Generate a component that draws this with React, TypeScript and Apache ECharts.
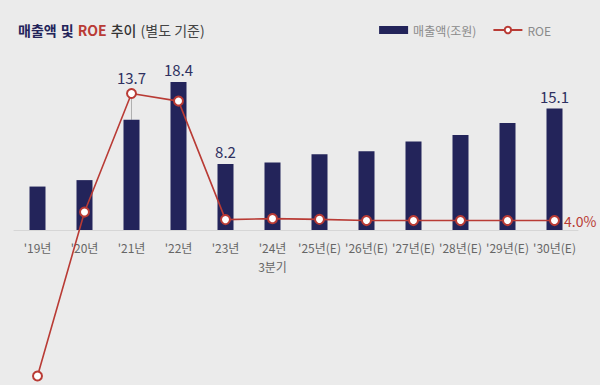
import React, { useEffect, useRef } from "react";
import * as echarts from "echarts";

const categories = [
  "'19년", "'20년", "'21년", "'22년", "'23년", "'24년\n3분기",
  "'25년(E)", "'26년(E)", "'27년(E)", "'28년(E)", "'29년(E)", "'30년(E)",
];
const revenue = [5.4, 6.2, 13.7, 18.4, 8.2, 8.4, 9.4, 9.8, 11.0, 11.8, 13.3, 15.1];
const roe = [-60, 7.5, 56.3, 53.2, 4.4, 4.8, 4.5, 4.0, 4.0, 4.0, 4.0, 4.0];
const labeledBars = [2, 3, 4, 11];
const roeLabelIdx = 11;
const leaderIdx = 2;

const NAVY = "#23245a";
const RED = "#b93b35";
const FONT = "'Noto Sans CJK KR', 'Noto Sans', sans-serif";

export default function App() {
  const ref = useRef<HTMLDivElement>(null);
  useEffect(() => {
    document.body.style.margin = "0";
    if (!ref.current) return;
    const chart = echarts.init(ref.current, undefined, { renderer: "svg" });
    const barData = revenue.map((v, i) => {
      if (!labeledBars.includes(i)) return v;
      const item: any = { value: v, label: { show: true } };
      if (i === leaderIdx) item.label.offset = [0, -30];
      return item;
    });
    const roeData = roe.map((v, i) =>
      i === roeLabelIdx
        ? {
            value: v,
            label: {
              show: true,
              position: "right",
              distance: 4,
              formatter: (p: any) => p.value.toFixed(1) + "%",
              color: RED,
              fontSize: 14,
              fontFamily: FONT,
            },
          }
        : v
    );
    chart.setOption({
      animation: false,
      backgroundColor: "#ebebeb",
      textStyle: { fontFamily: FONT },
      title: {
        left: 13,
        top: 16,
        text: "{a|매출액} {b|및} {c|ROE} {d|추이} {e|(별도 기준)}",
        textStyle: {
          rich: {
            a: { fontSize: 14, fontWeight: "bold", color: NAVY, fontFamily: FONT },
            b: { fontSize: 14, fontWeight: "bold", color: NAVY, fontFamily: FONT },
            c: { fontSize: 14, fontWeight: "bold", color: RED, fontFamily: FONT },
            d: { fontSize: 14, fontWeight: 500, color: "#333", fontFamily: FONT },
            e: { fontSize: 14, fontWeight: "normal", color: "#444", fontFamily: FONT },
          },
        },
      },
      legend: {
        right: 44,
        top: 19,
        itemWidth: 29,
        itemHeight: 8,
        itemGap: 16,
        textStyle: { color: "#8a8a8a", fontSize: 12, fontFamily: FONT },
        data: [
          { name: "매출액(조원)", icon: "rect" },
          { name: "ROE" },
        ],
      },
      grid: [
        { left: 14, right: 22, top: 53, bottom: 155 },
        { left: 14, right: 22, top: 53, bottom: 9 },
      ],
      xAxis: [
        {
          type: "category",
          gridIndex: 0,
          data: categories,
          axisLine: { lineStyle: { color: "#d6d6d6", width: 1 } },
          axisTick: { show: false },
          axisLabel: {
            color: "#666",
            fontSize: 12,
            lineHeight: 19,
            margin: 8,
            interval: 0,
            fontFamily: FONT,
          },
        },
        {
          type: "category",
          gridIndex: 1,
          data: categories,
          show: false,
        },
      ],
      yAxis: [
        { type: "value", gridIndex: 0, min: 0, max: 22, show: false, splitLine: { show: false } },
        { type: "value", gridIndex: 1, min: -60, max: 73, show: false, splitLine: { show: false } },
      ],
      series: [
        {
          name: "매출액(조원)",
          type: "bar",
          xAxisIndex: 0,
          yAxisIndex: 0,
          data: barData,
          barWidth: 16,
          itemStyle: { color: NAVY },
          label: {
            show: false,
            position: "top",
            distance: 5,
            color: "#2e3060",
            fontSize: 15,
            fontFamily: FONT,
          },
        },
        {
          name: "ROE",
          type: "line",
          xAxisIndex: 1,
          yAxisIndex: 1,
          data: roeData,
          clip: false,
          symbol: "circle",
          symbolSize: 9,
          showAllSymbol: true,
          lineStyle: { color: RED, width: 1.6 },
          itemStyle: { color: "#fff", borderColor: RED, borderWidth: 2 },
          label: { show: false },
          z: 5,
        },
      ],
    });
    const top = chart.convertToPixel({ seriesIndex: 1 }, [leaderIdx, roe[leaderIdx]]) as number[];
    const bottom = chart.convertToPixel({ seriesIndex: 0 }, [leaderIdx, revenue[leaderIdx]]) as number[];
    if (top && bottom) {
      chart.setOption({
        graphic: [
          {
            type: "line",
            z: 1,
            shape: { x1: top[0], y1: top[1] + 4, x2: bottom[0], y2: bottom[1] },
            style: { stroke: "#b0b0b0", lineWidth: 1 },
          },
        ],
      });
    }
    return () => chart.dispose();
  }, []);
  return <div ref={ref} style={{ width: 600, height: 385 }} />;
}
